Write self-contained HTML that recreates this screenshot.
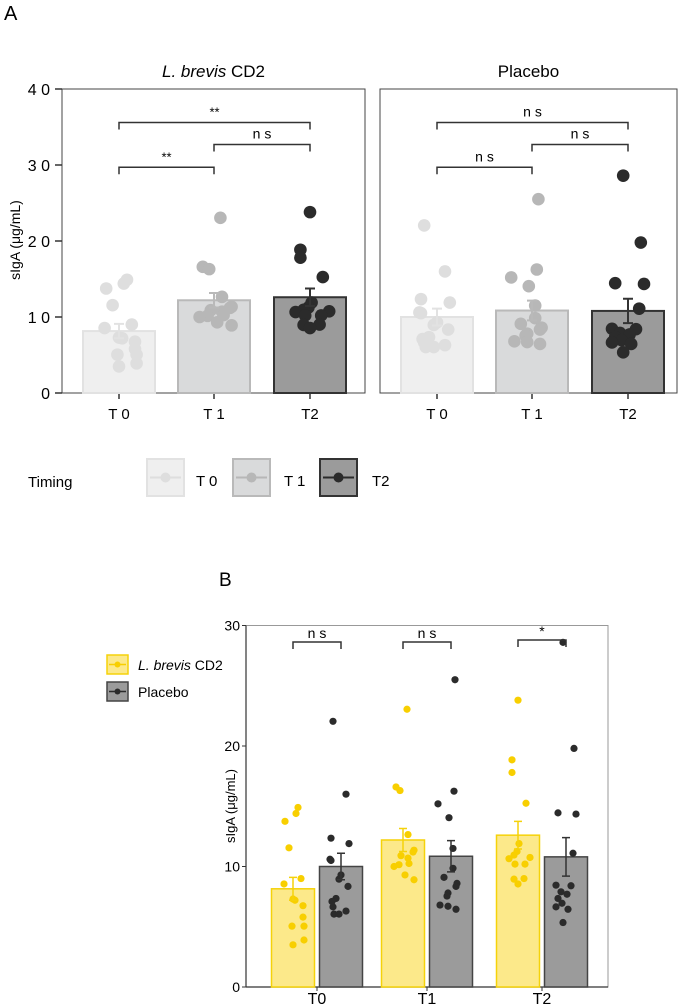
<!DOCTYPE html>
<html><head><meta charset="utf-8"><style>
html,body{margin:0;padding:0;background:#fff;}
svg{display:block;font-family:"Liberation Sans",sans-serif;}
</style></head><body>
<svg id="fig" width="685" height="1005" viewBox="0 0 685 1005"></svg>
<script>
const timings = ["T0","T1","T2"];
const timingLabelsA = ["T 0","T 1","T2"];
const groups = ["L. brevis CD2","Placebo"];
const meansCD2 = [8.15, 12.2, 12.6];
const errCD2 = [0.95, 0.95, 1.15];
const meansPla = [10.0, 10.85, 10.8];
const errPla = [1.1, 1.3, 1.6];
const ptsCD2 = [
 [13.75,14.4,14.9,11.55,9.0,8.55,7.3,7.2,6.75,5.8,5.05,5.05,3.9,3.5],
 [23.05,16.6,16.3,12.65,11.35,11.2,10.9,10.7,10.25,10.15,10.0,9.3,8.9],
 [23.8,18.85,17.8,15.25,11.9,11.25,10.95,10.75,10.65,10.2,10.2,9.0,8.95,8.55]
];
const jitCD2 = [
 [-8,3,5,-4,8,-9,0,2,10,10,-1,11,11,0],
 [4,-7,-3,5,11,10,-2,5,6,-4,-9,2,11],
 [0,-6,-6,8,1,-1,-4,12,-9,-3,7,6,-4,0]
];
const ptsPla = [
 [22.05,16.0,12.35,11.9,10.6,10.5,9.3,8.95,8.35,7.35,7.1,6.65,6.3,6.05,6.05],
 [25.5,16.25,15.2,14.05,11.5,9.85,9.1,8.6,8.35,7.8,7.55,6.8,6.7,6.45],
 [28.6,19.8,14.45,14.35,11.1,8.45,8.4,7.9,7.7,7.35,6.95,6.65,6.45,5.35]
];
const jitPla = [
 [-8,5,-10,8,-11,-10,0,-2,7,-5,-9,-8,5,-7,-2],
 [4,3,-13,-2,2,2,-7,6,5,-3,-4,-11,-3,5],
 [-3,8,-8,10,7,-10,5,-5,1,-8,-4,-10,2,-3]
];
const ticksA = [0,10,20,30,40];
const tickLabelsA = ["0","1 0","2 0","3 0","4 0"];
const ticksB = [0,10,20,30];
const sigA = [["**","ns","**"],["ns","ns","ns"]];
const sigB = ["ns","ns","*"];

const NS="http://www.w3.org/2000/svg";
const svg=document.getElementById('fig');
function el(tag,attrs,parent,text){const e=document.createElementNS(NS,tag);for(const k in attrs)e.setAttribute(k,attrs[k]);if(text!==undefined)e.textContent=text;(parent||svg).appendChild(e);return e;}

const yA=v=>393-v*7.6;
const timingStyle=[{fill:"#efefef",stroke:"#e2e2e2",pt:"#dedede"},{fill:"#d9dadb",stroke:"#b9b9b9",pt:"#b7b7b7"},{fill:"#9b9b9b",stroke:"#333",pt:"#2b2b2b"}];
let t=el('text',{x:4,y:20,'font-size':20},svg,"A");

const panels=[{x0:62,x1:365,cx:[119,214,310],means:meansCD2,err:errCD2,pts:ptsCD2,jit:jitCD2},
              {x0:380,x1:677,cx:[437,532,628],means:meansPla,err:errPla,pts:ptsPla,jit:jitPla}];
panels.forEach((p,pi)=>{
  const g=el('g',{});
  
  el('rect',{x:p.x0,y:yA(40),width:p.x1-p.x0,height:yA(0)-yA(40),fill:'none',stroke:'#444','stroke-width':1},g);
  const title=el('text',{x:(p.x0+p.x1)/2,y:77,'text-anchor':'middle','font-size':17},g);
  
  if(pi==0){el('tspan',{'font-style':'italic'},title,"L. brevis");el('tspan',{},title," CD2");}
  else title.textContent="Placebo";
  if(pi==0){
    ticksA.forEach((v,i)=>{
      el('line',{x1:55,x2:62,y1:yA(v),y2:yA(v),stroke:'#333','stroke-width':1.5},g);
      const tl=el('text',{x:50,y:yA(v)+6,'text-anchor':'end','font-size':16},g,tickLabelsA[i]);
      
    });
    const yt=el('text',{transform:'translate(20,240) rotate(-90)','text-anchor':'middle','font-size':14},g,"sIgA (μg/mL)");
    
  }
  timings.forEach((tm,i)=>{
    const s=timingStyle[i],cx=p.cx[i],m=p.means[i];
    el('line',{x1:cx,x2:cx,y1:yA(0),y2:yA(0)+6,stroke:'#333','stroke-width':1.5},g);
    const xl=el('text',{x:cx,y:419,'text-anchor':'middle','font-size':15},g,timingLabelsA[i]);
    
    const b=el('rect',{x:cx-36,y:yA(m),width:72,height:yA(0)-yA(m),fill:s.fill,stroke:s.stroke,'stroke-width':2},g);
    
    p.pts[i].forEach((v,j)=>{
      const c=el('circle',{cx:cx+p.jit[i][j]*1.6,cy:yA(v),r:6.3,fill:s.pt},g);
      
    });
    const e=p.err[i];
    el('path',{d:`M${cx},${yA(m-e)}V${yA(m+e)}M${cx-5},${yA(m+e)}H${cx+5}M${cx-5},${yA(m-e)}H${cx+5}`,stroke:i==2?'#333':s.stroke,'stroke-width':2,fill:'none'},g);
  });
  const br=[[0,1,29.7],[1,2,32.7],[0,2,35.6]];
  br.forEach((b,k)=>{
    const xa=p.cx[b[0]],xb=p.cx[b[1]],y=yA(b[2]);
    el('path',{d:`M${xa},${y+7}V${y}H${xb}V${y+7}`,stroke:'#333','stroke-width':1.5,fill:'none'},g);
    const lab=sigA[pi][k]=="ns"?"n s":sigA[pi][k];
    const st=el('text',{x:(xa+xb)/2,y:y-6,'text-anchor':'middle','font-size':lab=="n s"?14:13},g,lab);
    
  });
});
const lg=el('g',{});
el('text',{x:28,y:487,'font-size':15},lg,"Timing");
[[147,196,"T 0"],[233,284,"T 1"],[320,372,"T2"]].forEach((k,i)=>{
  const s=timingStyle[i];
  const kk=el('g',{},lg);
  el('rect',{x:k[0],y:459,width:37,height:37,fill:s.fill,stroke:s.stroke,'stroke-width':2},kk);
  el('line',{x1:k[0]+3,x2:k[0]+34,y1:477.5,y2:477.5,stroke:s.pt,'stroke-width':2},kk);
  el('circle',{cx:k[0]+18.5,cy:477.5,r:5,fill:s.pt},kk);
  el('text',{x:k[1],y:486,'font-size':15},kk,k[2]);
});

const yB=v=>987-v*12.05;
const cxB=[317,427,542];
const gb=el('g',{});
el('text',{x:219,y:586,'font-size':19},gb,"B");
el('rect',{x:246,y:yB(30),width:362,height:yB(0)-yB(30),fill:'none',stroke:'#999','stroke-width':1},gb);
el('line',{x1:246,x2:246,y1:yB(30),y2:yB(0),stroke:'#333','stroke-width':1.2},gb);
el('line',{x1:246,x2:608,y1:yB(0),y2:yB(0),stroke:'#333','stroke-width':1.2},gb);
ticksB.forEach(v=>{
  el('line',{x1:242,x2:246,y1:yB(v),y2:yB(v),stroke:'#333'},gb);
  const tl=el('text',{x:240,y:yB(v)+5,'text-anchor':'end','font-size':14},gb,String(v));
  
});
const ytb=el('text',{transform:'translate(235,806) rotate(-90)','text-anchor':'middle','font-size':13},gb,"sIgA (μg/mL)");

const grpStyle=[{fill:"#fce98a",stroke:"#f5d20a",pt:"#f8cf00",err:"#f5d20a"},{fill:"#9b9b9b",stroke:"#444",pt:"#2b2b2b",err:"#333"}];
const dataB=[{m:meansCD2,e:errCD2,p:ptsCD2,j:jitCD2,off:-24},{m:meansPla,e:errPla,p:ptsPla,j:jitPla,off:24}];
timings.forEach((tm,i)=>{
  const cx=cxB[i];
  el('line',{x1:cx,x2:cx,y1:yB(0),y2:yB(0)+4,stroke:'#333'},gb);
  const xl=el('text',{x:cx,y:1004,'text-anchor':'middle','font-size':16},gb,tm);
  
  dataB.forEach((d,gi)=>{
    const s=grpStyle[gi],bx=cx+d.off,m=d.m[i],e=d.e[i];
    const b=el('rect',{x:bx-21.5,y:yB(m),width:43,height:yB(0)-yB(m),fill:s.fill,stroke:s.stroke,'stroke-width':1.5},gb);
    
    d.p[i].forEach((v,j)=>{
      const c=el('circle',{cx:bx+d.j[i][j],cy:yB(v),r:3.6,fill:s.pt},gb);
      
    });
    el('path',{d:`M${bx},${yB(m-e)}V${yB(m+e)}M${bx-4},${yB(m+e)}H${bx+4}M${bx-4},${yB(m-e)}H${bx+4}`,stroke:s.err,'stroke-width':1.5,fill:'none'},gb);
  });
  const xa=cx-24,xb=cx+24,y=i==2?640:642;
  el('path',{d:`M${xa},${y+7}V${y}H${xb}V${y+7}`,stroke:'#333','stroke-width':1.5,fill:'none'},gb);
  const lab=sigB[i]=="ns"?"n s":sigB[i];
  const st=el('text',{x:cx,y:y-4,'text-anchor':'middle','font-size':14},gb,lab);
  
});
const lb=el('g',{});
[[655,"L. brevis"," CD2"],[682,"Placebo",""]].forEach((k,i)=>{
  const s=grpStyle[i];
  const kk=el('g',{},lb);
  el('rect',{x:107,y:k[0],width:21,height:19,fill:s.fill,stroke:s.stroke,'stroke-width':1.5},kk);
  el('line',{x1:109,x2:126,y1:k[0]+9.5,y2:k[0]+9.5,stroke:s.pt,'stroke-width':1.5},kk);
  el('circle',{cx:117.5,cy:k[0]+9.5,r:3,fill:s.pt},kk);
  const tx=el('text',{x:138,y:k[0]+15,'font-size':14},kk);
  if(i==0){el('tspan',{'font-style':'italic'},tx,k[1]);el('tspan',{},tx,k[2]);} else tx.textContent=k[1];
});
</script>
</body></html>
